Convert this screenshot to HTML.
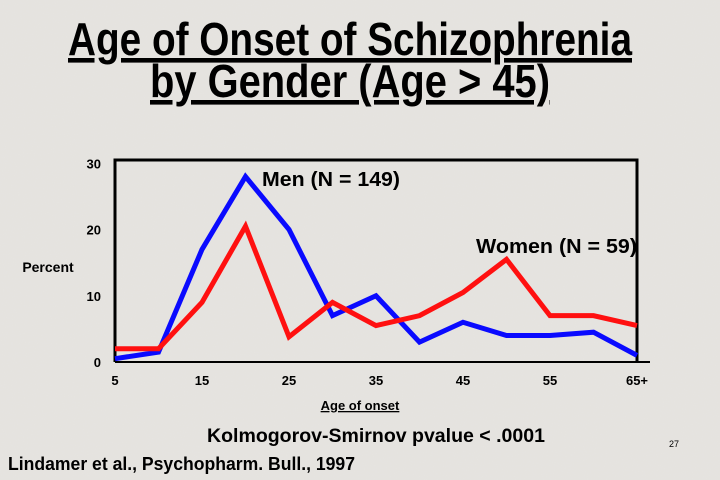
<!DOCTYPE html>
<html><head><meta charset="utf-8"><style>
body{margin:0;width:720px;height:480px;overflow:hidden;background:#e4e2de;font-family:"Liberation Sans",Arial,sans-serif;}
svg{display:block}
</style></head><body>
<svg width="720" height="480">
<defs><filter id="n"><feTurbulence type="fractalNoise" baseFrequency="0.9" numOctaves="2" seed="3"/><feColorMatrix values="0 0 0 0 0.75 0 0 0 0 0.74 0 0 0 0 0.72 0 0 0 0.35 0"/></filter></defs>
<rect width="720" height="480" fill="#e6e4e0"/>
<rect width="720" height="480" filter="url(#n)"/>
<text x="68" y="55" textLength="564" lengthAdjust="spacingAndGlyphs" font-size="46" font-weight="bold" text-decoration="underline">Age of Onset of Schizophrenia</text>
<text x="150" y="97" textLength="400" lengthAdjust="spacingAndGlyphs" font-size="46" font-weight="bold" text-decoration="underline">by Gender  (Age &gt; 45)</text>
<g id="plot"></g>
<text x="48" y="272" text-anchor="middle" font-size="14" font-weight="bold">Percent</text>
<text x="360" y="410" text-anchor="middle" font-size="13" font-weight="bold" text-decoration="underline">Age of onset</text>
<text x="207" y="442" textLength="338" lengthAdjust="spacingAndGlyphs" font-size="19" font-weight="bold">Kolmogorov-Smirnov pvalue &lt; .0001</text>
<text x="674" y="447" text-anchor="middle" font-size="9">27</text>
<text x="8" y="470" textLength="347" lengthAdjust="spacingAndGlyphs" font-size="18" font-weight="bold">Lindamer et al., Psychopharm. Bull., 1997</text>
</svg>
<script>
const ages=[5,10,15,20,25,30,35,40,45,50,55,60,65];
const xTicks=["5","15","25","35","45","55","65+"];
const xTickVals=[5,15,25,35,45,55,65];
const yTicks=[0,10,20,30];
const men=[0.5,1.5,17,28,20,7,10,3,6,4,4,4.5,1];
const women=[2,2,9,20.5,3.8,9,5.5,7,10.5,15.5,7,7,5.5];
const L=115,R=637,T=160,B=362;
const x=a=>L+(a-5)/60*(R-L);
const y=v=>B-v/30.5*(B-T);
const g=document.getElementById('plot');
const NS='http://www.w3.org/2000/svg';
function mk(t,at){const e=document.createElementNS(NS,t);for(const k in at)e.setAttribute(k,at[k]);g.appendChild(e);return e;}
let f=mk('path',{d:`M${L},${B} L${L},${T} L${R},${T} L${R},${B}`,fill:'none',stroke:'#000','stroke-width':3});


let ax=mk('line',{x1:L,y1:B,x2:650,y2:B,stroke:'#000','stroke-width':2});


yTicks.forEach(v=>{const t=mk('text',{x:L-14,y:y(v)+5,'text-anchor':'end','font-size':13,'font-weight':'bold'});t.textContent=v;

});
xTicks.forEach((s,i)=>{const t=mk('text',{x:x(xTickVals[i]),y:385,'text-anchor':'middle','font-size':13,'font-weight':'bold'});t.textContent=s;

});
function line(d,c,n){const p=mk('polyline',{points:d.map((v,i)=>x(ages[i])+','+y(v)).join(' '),fill:'none',stroke:c,'stroke-width':5,'stroke-linejoin':'miter'});

}
line(men,'#0a0aff','men-line');
line(women,'#ff1010','women-line');
let t1=mk('text',{x:262,y:186,'font-size':20,'font-weight':'bold',textLength:138,lengthAdjust:'spacingAndGlyphs'});t1.textContent='Men (N = 149)';


let t2=mk('text',{x:476,y:253,'font-size':20,'font-weight':'bold',textLength:161,lengthAdjust:'spacingAndGlyphs'});t2.textContent='Women (N = 59)';


</script>
</body></html>
